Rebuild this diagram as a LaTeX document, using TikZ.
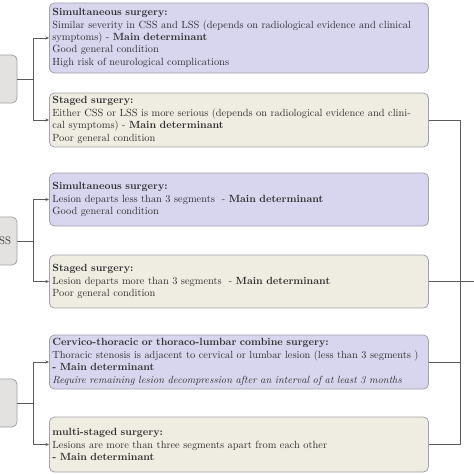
\documentclass[tikz,border=0pt]{standalone}
\usepackage{xcolor}
\usepackage{tikz}
\usetikzlibrary{arrows.meta,positioning,calc}

\definecolor{simfill}{HTML}{D8D6EE}
\definecolor{stgfill}{HTML}{EFECE2}
\definecolor{grpfill}{HTML}{E3E2E0}
\definecolor{boxline}{HTML}{A2A2A8}
\definecolor{linkline}{HTML}{5A5A5A}
\definecolor{bodytext}{HTML}{2E2E2E}

\tikzset{
  planbox/.style={draw=boxline,line width=0.8pt,rounded corners=5pt,anchor=west,
    minimum width=379pt,text width=373pt,inner xsep=3pt,align=left,
    text=bodytext,font=\fontsize{10.4}{12.4}\selectfont},
  simbox/.style={planbox,fill=simfill},
  stgbox/.style={planbox,fill=stgfill},
  grpbox/.style={draw=boxline,line width=0.8pt,rounded corners=5pt,fill=grpfill,
    minimum width=57pt,minimum height=48pt,text width=45pt,inner xsep=6pt,
    align=right,text=bodytext,font=\fontsize{11}{13}\selectfont},
  link/.style={draw=linkline,line width=0.9pt},
  feed/.style={link,-{Stealth[length=3.5pt,width=3pt]}}
}

\begin{document}
\begin{tikzpicture}[x=1pt,y=-1pt]
  \useasboundingbox (0,0) rectangle (474,474);

  % left group boxes (cut at the page edge)
  \node[grpbox] (grpA) at (-11.5,79)  {};
  \node[grpbox] (grpB) at (-11.5,241) {SS};
  \node[grpbox] (grpC) at (-11.5,403) {};

  % options
  \node[simbox,minimum height=70pt] (sim1) at (49,38)
    {\textbf{Simultaneous surgery:}\\
     Similar severity in CSS and LSS (depends on radiological evidence and clinical\\
     symptoms) - \textbf{Main determinant}\\
     Good general condition\\
     High risk of neurological complications};
  \node[stgbox,minimum height=54pt] (stg1) at (49,120)
    {\textbf{Staged surgery:}\\
     Either CSS or LSS is more serious (depends on radiological evidence and clini-\\
     cal symptoms) - \textbf{Main determinant}\\
     Poor general condition};
  \node[simbox,minimum height=53pt] (sim2) at (49,199.5)
    {\textbf{Simultaneous surgery:}\\
     Lesion departs less than 3 segments\ \ - \textbf{Main determinant}\\
     Good general condition};
  \node[stgbox,minimum height=53pt] (stg2) at (49,281.5)
    {\textbf{Staged surgery:}\\
     Lesion departs more than 3 segments\ \ - \textbf{Main determinant}\\
     Poor general condition};
  \node[simbox,minimum height=54pt] (comb) at (49,362)
    {\textbf{Cervico-thoracic or thoraco-lumbar combine surgery:}\\
     Thoracic stenosis is adjacent to cervical or lumbar lesion (less than 3 segments )\\
     \textbf{- Main determinant}\\
     \textit{Require remaining lesion decompression after an interval of at least 3 months}};
  \node[stgbox,minimum height=55pt] (multi) at (49,444.5)
    {\textbf{multi-staged surgery:}\\
     Lesions are more than three segments apart from each other\\
     \textbf{- Main determinant}};

  % left branches
  \coordinate (jA) at (33,79);
  \coordinate (jB) at (33,241);
  \coordinate (jC) at (33,403);
  \draw[link] (grpA.east) -- (jA);
  \draw[link] (grpB.east) -- (jB);
  \draw[link] (grpC.east) -- (jC);
  \draw[feed] (jA) |- (sim1.west);
  \draw[feed] (jA) |- (stg1.west);
  \draw[feed] (jB) |- (sim2.west);
  \draw[feed] (jB) |- (stg2.west);
  \draw[feed] (jC) |- (comb.west);
  \draw[feed] (jC) |- (multi.west);

  % right rail
  \coordinate (rtop) at (460,120);
  \coordinate (rbot) at (460,444.5);
  \coordinate (rout) at (480,281.5);
  \draw[link] (stg1.east) -- (rtop) -- (rbot) -- (multi.east);
  \draw[link] (comb.east) -- (comb.east -| rtop);
  \draw[link] (stg2.east) -- (rout);
\end{tikzpicture}
\end{document}
